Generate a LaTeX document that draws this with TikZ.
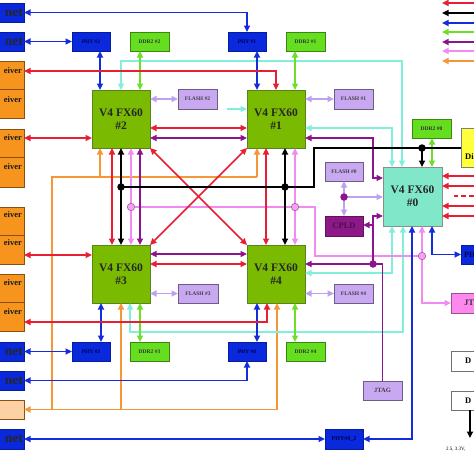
\documentclass[tikz,border=0pt]{standalone}
\usepackage{fontspec}
\setmainfont{Liberation Serif}
\usetikzlibrary{arrows.meta}
\definecolor{fpgacol}{RGB}{122,186,0}
\definecolor{fpgaedge}{RGB}{90,130,30}
\definecolor{aquabox}{RGB}{128,232,200}
\definecolor{ddrcol}{RGB}{100,222,30}
\definecolor{phycol}{RGB}{10,40,220}
\definecolor{flashcol}{RGB}{200,168,240}
\definecolor{cpldcol}{RGB}{140,25,135}
\definecolor{rcvcol}{RGB}{247,148,30}
\definecolor{peachcol}{RGB}{252,210,165}
\definecolor{yelcol}{RGB}{255,255,60}
\definecolor{jtcol}{RGB}{255,136,238}
\definecolor{cred}{RGB}{232,30,50}
\definecolor{cblue}{RGB}{20,45,220}
\definecolor{cgreen}{RGB}{110,222,40}
\definecolor{cpurple}{RGB}{140,20,140}
\definecolor{cpink}{RGB}{240,140,240}
\definecolor{corange}{RGB}{245,150,55}
\definecolor{caqua}{RGB}{130,238,220}
\definecolor{clav}{RGB}{190,160,240}
\tikzset{
  box/.style={draw, line width=0.6pt, inner sep=0pt, outer sep=0pt, anchor=north west, align=center},
  sz/.style 2 args={minimum width=#1pt, minimum height=#2pt},
  fpga/.style={box, fill=fpgacol, draw=fpgaedge, sz={58}{58}, font=\bfseries\fontsize{11.5}{13}\selectfont, text=black!85},
  fpgazero/.style={box, fill=aquabox, draw=black!45, sz={59}{59}, font=\bfseries\fontsize{11.5}{13}\selectfont, text=black!85},
  phybox/.style={box, fill=phycol, draw=phycol!70!black, sz={38}{19}, font=\bfseries\fontsize{5.5}{6}\selectfont, text=blue!30!black},
  ddrbox/.style={box, fill=ddrcol, draw=ddrcol!60!black, sz={39}{19}, font=\bfseries\fontsize{5.5}{6}\selectfont, text=black!80},
  flashbox/.style={box, fill=flashcol, draw=flashcol!55!black, sz={39}{20}, font=\bfseries\fontsize{5.5}{6}\selectfont, text=black!75},
  netbox/.style={box, fill=phycol, draw=phycol!70!black, sz={34}{19}},
  rcvbox/.style={box, fill=rcvcol, draw=rcvcol!55!black, sz={34}{28.5}},
  nettext/.style={anchor=east, inner sep=0pt, font=\bfseries\fontsize{13.5}{14}\selectfont, text=black!85},
  rcvtext/.style={anchor=east, inner sep=0pt, font=\bfseries\fontsize{8.5}{9}\selectfont, text=black!90},
  rightbox/.style={box, sz={30}{20}},
  dotblk/.style={circle, fill=black, inner sep=0pt, minimum size=7.5pt},
  dotpur/.style={circle, fill=cpurple, inner sep=0pt, minimum size=7.5pt},
  dotpink/.style={circle, fill=cpink!80, draw=cpurple!70, line width=0.6pt, inner sep=0pt, minimum size=7.5pt},
  wire/.style={line width=1.6pt},
  heavy/.style={line width=1.9pt},
}
\begin{document}
\begin{tikzpicture}[x=1pt,y=-1pt,>={Triangle[length=6.5pt,width=6pt]}]
\useasboundingbox[fill=white] (0,0) rectangle (474,474);

% ---------------- boxes ----------------
\node[fpga] (fp2) at (92,90) {V4 FX60\\\#2};
\node[fpga] (fp1) at (247,90) {V4 FX60\\\#1};
\node[fpga] (fp3) at (92,245) {V4 FX60\\\#3};
\node[fpga] (fp4) at (247,245) {V4 FX60\\\#4};
\node[fpgazero] (fp0) at (383,167) {V4 FX60\\\#0};

\node[phybox] (phy2) at (72,32) {PHY \#2};
\node[ddrbox] (ddr2) at (130,32) {DDR2 \#2};
\node[phybox] (phy1) at (228,32) {PHY \#1};
\node[ddrbox] (ddr1) at (286,32) {DDR2 \#1};
\node[phybox] (phy3) at (72,342) {PHY \#3};
\node[ddrbox] (ddr3) at (130,342) {DDR2 \#3};
\node[phybox] (phy4) at (228,342) {PHY \#4};
\node[ddrbox] (ddr4) at (286,342) {DDR2 \#4};
\node[ddrbox] (ddr0) at (412,119) {DDR2 \#0};

\node[flashbox] (flash2) at (178,89) {FLASH \#2};
\node[flashbox] (flash1) at (334,89) {FLASH \#1};
\node[flashbox, sz={40}{19}] (flash3) at (178,284) {FLASH \#3};
\node[flashbox, sz={39}{19}] (flash4) at (334,284) {FLASH \#4};
\node[flashbox, sz={38}{19}] (flash0) at (325,162) {FLASH \#0};
\node[box, fill=cpldcol, draw=cpldcol!70!black, sz={38}{20}, font=\bfseries\fontsize{8.5}{9}\selectfont, text=cpldcol!55!black] (cpld) at (325,216) {CPLD};
\node[flashbox, sz={39}{19}, font=\bfseries\fontsize{6.5}{7}\selectfont] (jtag) at (363,381) {JTAG};
\node[phybox, sz={38}{20}, font=\bfseries\fontsize{6}{7}\selectfont] (phy02) at (325,429) {PHY\#0\_2};

% left column
\node[netbox] (netA) at (-10,3) {};
\node[netbox] (netB) at (-10,32) {};
\node[rcvbox] (rcv1a) at (-10,61) {};
\node[rcvbox, sz={34}{29}] (rcv1b) at (-10,89.5) {};
\node[rcvbox] (rcv2a) at (-10,129) {};
\node[rcvbox, sz={34}{29.5}] (rcv2b) at (-10,157.5) {};
\node[rcvbox] (rcv3a) at (-10,207) {};
\node[rcvbox, sz={34}{29}] (rcv3b) at (-10,235.5) {};
\node[rcvbox] (rcv4a) at (-10,274) {};
\node[rcvbox, sz={34}{29}] (rcv4b) at (-10,302.5) {};
\node[netbox] (netC) at (-10,342) {};
\node[netbox] (netD) at (-10,371) {};
\node[box, fill=peachcol, draw=rcvcol!55!black, sz={34}{19}] (peach) at (-10,400) {};
\node[netbox, sz={34}{20}] (netE) at (-10,429) {};

\node[nettext] (tA) at (23,12.5) {net};
\node[nettext] (tB) at (23,41.5) {net};
\node[nettext] (tC) at (23,351.5) {net};
\node[nettext] (tD) at (23,380.5) {net};
\node[nettext] (tE) at (23,439) {net};
\node[rcvtext] (r1) at (22,71) {eiver};
\node[rcvtext] (r2) at (22,99.5) {eiver};
\node[rcvtext] (r3) at (22,138) {eiver};
\node[rcvtext] (r4) at (22,167) {eiver};
\node[rcvtext] (r5) at (22,215) {eiver};
\node[rcvtext] (r6) at (22,243) {eiver};
\node[rcvtext] (r7) at (22,283) {eiver};
\node[rcvtext] (r8) at (22,312) {eiver};

% right column
\node[box, fill=yelcol, draw=black!50, sz={20}{39}] (yel) at (461,128) {};
\node[anchor=west, inner sep=0pt, font=\bfseries\fontsize{8.5}{9}\selectfont] (tyel) at (465,157) {Di};
\node[box, fill=phycol, draw=phycol!70!black, sz={20}{19}] (phR) at (461,245) {};
\node[anchor=west, inner sep=0pt, font=\bfseries\fontsize{8}{9}\selectfont, text=blue!30!black] (tphR) at (464,254.5) {PH};
\node[rightbox, fill=jtcol, draw=jtcol!60!black] (jtR) at (451,293) {};
\node[anchor=west, inner sep=0pt, font=\bfseries\fontsize{8.5}{9}\selectfont, text=black!80] (tjtR) at (464,303) {JT};
\node[rightbox, fill=white, draw=black!55] (dR1) at (451,351) {};
\node[anchor=west, inner sep=0pt, font=\bfseries\fontsize{8.5}{9}\selectfont] (tdR1) at (465,361) {D};
\node[rightbox, fill=white, draw=black!55, sz={30}{19}] (dR2) at (451,391) {};
\node[anchor=west, inner sep=0pt, font=\bfseries\fontsize{8.5}{9}\selectfont] (tdR2) at (465,400.5) {D};
\coordinate (pwr) at (470,438);
\node[anchor=west, inner sep=0pt, font=\fontsize{5}{6}\selectfont] (tpwr) at (446,449) {2.5, 3.3V,};

% ---------------- wires ----------------
\begin{scope}[wire]
% orange
\draw[corange,<-] (peach.east) -- (277,409.5);
\draw[corange,->] (277,409.5) -- (277,0 |- fp4.south);
\draw[corange,->] (121,409.5) -- (121,0 |- fp3.south);
\draw[corange] (52,409.5) -- (52,177) -- (257,177);
\draw[corange,->] (257,177) -- (257,0 |- fp1.south);
\draw[corange,->] (100,177) -- (100,0 |- fp2.south);

% aquamarine
\draw[caqua,<->] (121,0 |- fp2.north) |- (402,61) -- (402,0 |- fp0.north);
\draw[caqua,<->] (fp1.east |- 0,128) -| (392,0 |- fp0.north);
\draw[caqua,<->] (392,0 |- fp0.south) |- (fp4.east |- 0,273);
\draw[caqua,<->] (403,0 |- fp0.south) |- (130,332) -- (130,0 |- fp3.south);
\coordinate (aqstub) at (227,109);
\draw[caqua,->] (aqstub) -- (fp1.west |- aqstub);

% pink
\draw[cpink,<->] (131,0 |- fp2.south) -- (131,0 |- fp3.north);
\draw[cpink,<->] (295,0 |- fp1.south) -- (295,0 |- fp4.north);
\draw[cpink] (131,207) -- (315,207) -- (315,256) -- (422,256);
\draw[cpink,->] (422,256) -- (422,0 |- fp0.south);
\draw[cpink,->] (422,256) |- (jtR.west |- 0,303);

% blue
\draw[cblue,<->] (netA.east) -| (phy1.north);
\draw[cblue,<->] (netB.east) -- (phy2.west);
\draw[cblue,<->] (100,0 |- phy2.south) -- (100,0 |- fp2.north);
\draw[cblue,<->] (257,0 |- phy1.south) -- (257,0 |- fp1.north);
\draw[cblue,<->] (101,0 |- fp3.south) -- (101,0 |- phy3.north);
\draw[cblue,<->] (257,0 |- fp4.south) -- (257,0 |- phy4.north);
\draw[cblue,<->] (netC.east) -- (phy3.west);
\draw[cblue,<->] (netD.east) -| (phy4.south);
\draw[cblue,<->] (netE.east) -- (phy02.west);
\draw[cblue,<->] (412,0 |- fp0.south) |- (phy02.east);
\draw[cblue,<->] (432,0 |- fp0.south) |- (phR.west);

% green
\draw[cgreen,<->] (140,0 |- ddr2.south) -- (140,0 |- fp2.north);
\draw[cgreen,<->] (295,0 |- ddr1.south) -- (295,0 |- fp1.north);
\draw[cgreen,<->] (140,0 |- fp3.south) -- (140,0 |- ddr3.north);
\draw[cgreen,<->] (295,0 |- fp4.south) -- (295,0 |- ddr4.north);
\draw[cgreen,<->] (432,0 |- ddr0.south) -- (432,0 |- fp0.north);

% lavender
\draw[clav,<->] (fp2.east |- 0,99) -- (flash2.west |- 0,99);
\draw[clav,<->] (fp1.east |- 0,99) -- (flash1.west |- 0,99);
\draw[clav,<->] (fp3.east |- 0,293.5) -- (flash3.west |- 0,293.5);
\draw[clav,<->] (fp4.east |- 0,293.5) -- (flash4.west |- 0,293.5);
\coordinate (lavdot) at (344,197);
\draw[clav,->] (lavdot) -- (lavdot |- flash0.south);
\draw[clav,->] (lavdot) -- (lavdot |- cpld.north);
\draw[clav,->] (lavdot) -- (fp0.west |- lavdot);

% purple
\draw[cpurple,<->] (fp2.east |- 0,138) -- (fp1.west |- 0,138);
\draw[cpurple,<->] (140,0 |- fp2.south) -- (140,0 |- fp3.north);
\draw[cpurple,<->] (fp3.east |- 0,254) -- (fp4.west |- 0,254);
\draw[cpurple,<->] (fp1.east |- 0,138) -| (373,178) -- (fp0.west |- 0,178);
\draw[cpurple,->] (jtag.north) |- (fp4.east |- 0,264);
\draw[cpurple,->] (373,264) |- (fp0.west |- 0,216);
\draw[cpurple,->] (373,225) -- (cpld.east |- 0,225);

% red
\draw[cred,<->] (rcv1a.east |- 0,71) -| (276,0 |- fp1.north);
\draw[cred,<->] (rcv2a.east |- 0,138) -- (fp2.west |- 0,138);
\draw[cred,<->] (fp2.east |- 0,128) -- (fp1.west |- 0,128);
\draw[cred,<->] (112,0 |- fp2.south) -- (112,0 |- fp3.north);
\draw[cred,<->] (266,0 |- fp1.south) -- (266,0 |- fp4.north);
\draw[cred,<->] (fp2.south east) -- (fp4.north west);
\draw[cred,<->] (fp1.south west) -- (fp3.north east);
\draw[cred,<->] (fp3.east |- 0,264) -- (fp4.west |- 0,264);
\draw[cred,<->] (rcv3b.east |- 0,255) -- (fp3.west |- 0,255);
\draw[cred,<->] (rcv4b.east |- 0,322) -| (267,0 |- fp4.south);
\foreach \yy/\nm in {176/ra,186/rb,206/rc,216/rd}{
  \coordinate (\nm) at (474,\yy);
  \draw[cred,->] (\nm) -- (fp0.east |- \nm);
}
\coordinate (rdash) at (474,196);
\draw[cred,dashed,dash pattern=on 5pt off 3pt] (rdash) -- (454,196);

% black
\draw[black,heavy,<->] (121,0 |- fp2.south) -- (121,0 |- fp3.north);
\draw[black,heavy,<->] (285,0 |- fp1.south) -- (285,0 |- fp4.north);
\draw[black,heavy] (121,187) -- (314,187) -- (314,148) -- (yel.west |- 0,148);
\draw[black,heavy,->] (422,148) -- (422,0 |- fp0.north);
\draw[black,heavy,->] (470,0 |- dR2.south) -- (pwr);

% legend
\foreach \yy/\cc in {3/cred,13/black,23/cblue,32/cgreen,42/cpurple,51/cpink,61/corange}{
  \draw[\cc,<-] (442,\yy) -- (474,\yy);
}
\end{scope}

% junction dots
\node[dotblk] (db1) at (121,187) {};
\node[dotblk] (db2) at (285,187) {};
\node[dotblk] (db3) at (422,148) {};
\node[dotpur] (dp1) at (lavdot) {};
\node[dotpur] (dp2) at (373,264) {};
\node[dotpink] (dk1) at (131,207) {};
\node[dotpink] (dk2) at (295,207) {};
\node[dotpink] (dk3) at (422,256) {};
\end{tikzpicture}
\end{document}
